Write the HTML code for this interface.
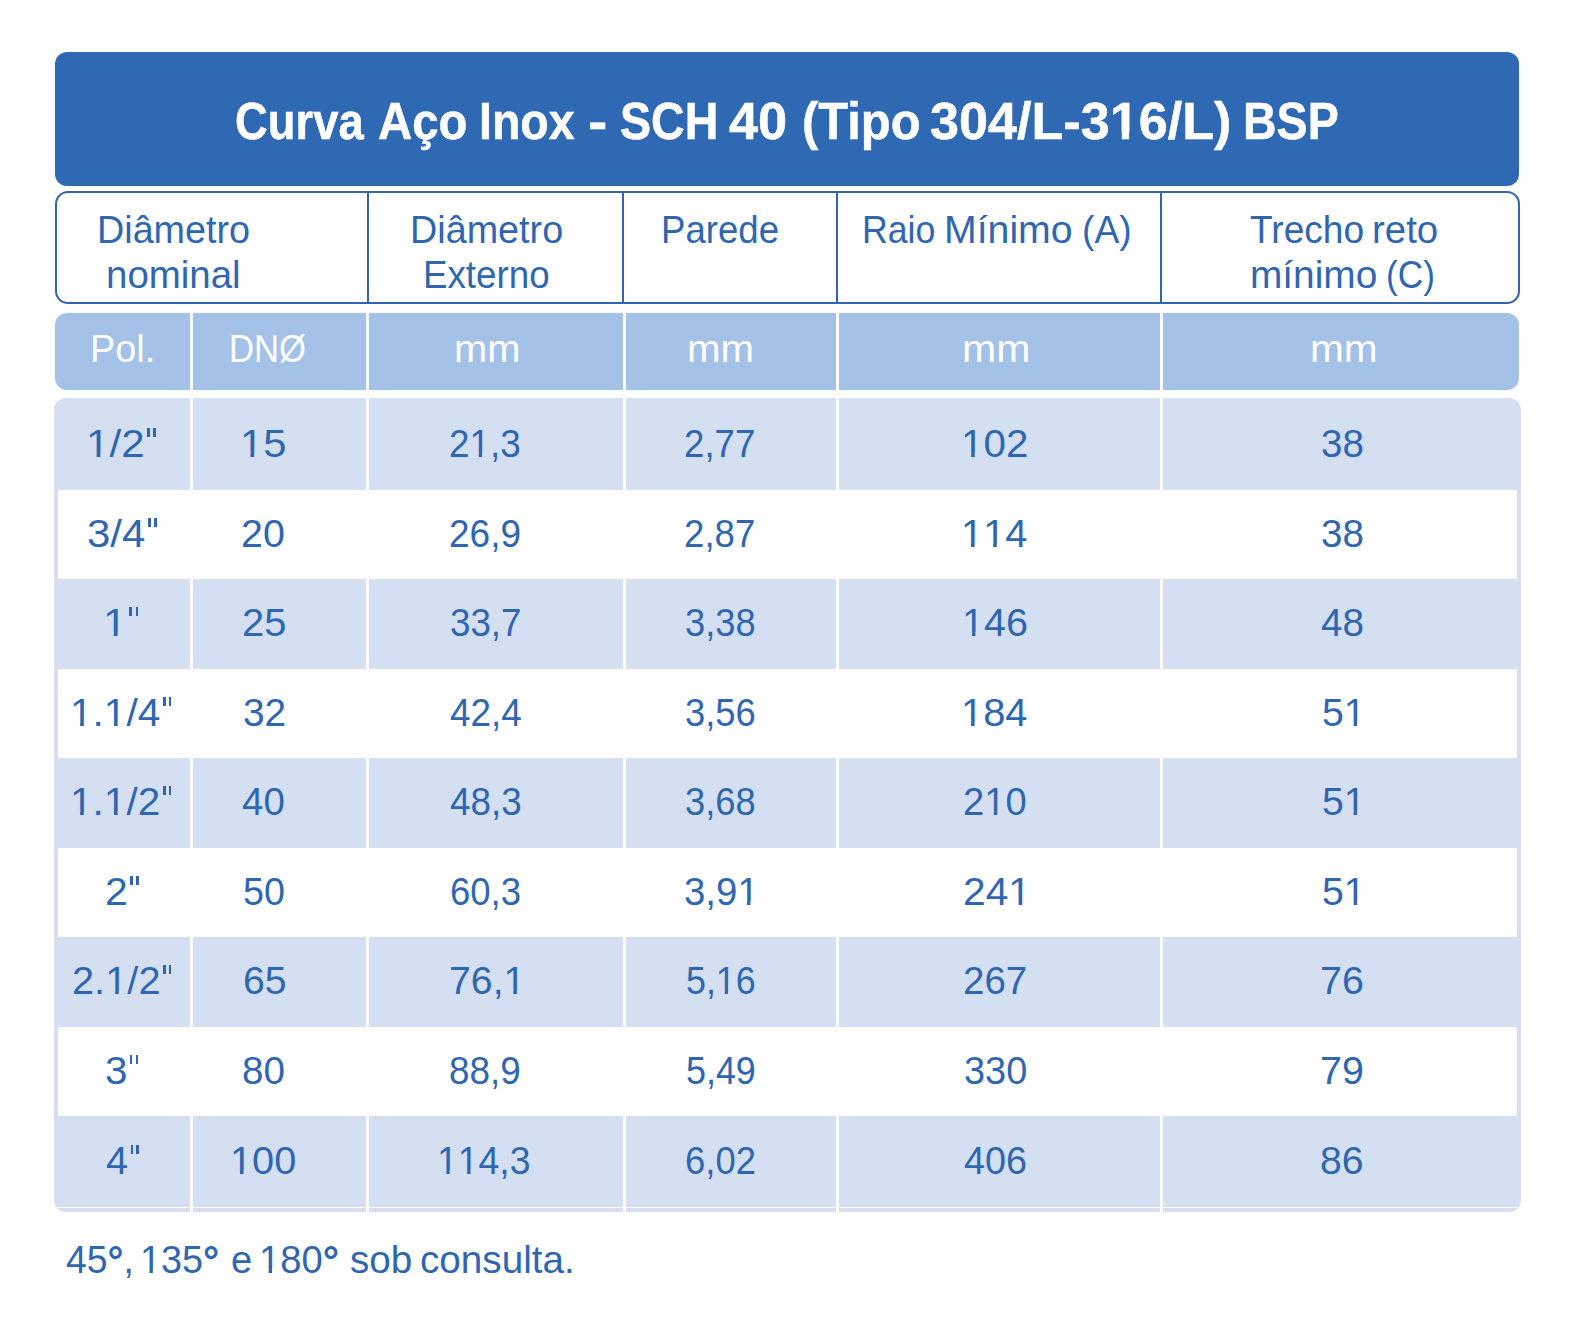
<!DOCTYPE html>
<html><head><meta charset="utf-8">
<style>
*{margin:0;padding:0;box-sizing:border-box}
html,body{width:1575px;height:1334px;background:#fff;overflow:hidden}
body{position:relative;font-family:"Liberation Sans",sans-serif;color:#3066b0}
.a{position:absolute}
.t{position:absolute;white-space:nowrap;transform-origin:0 0}
#title{left:55px;top:52px;width:1464px;height:134px;border-radius:12px;background:#3069b3}
#hdr{left:55px;top:191px;width:1465px;height:113px;border:2px solid #3265a9;border-radius:13px}
.vd{width:2px;background:#3265a9;top:191px;height:113px}
#units{left:55px;top:313px;width:1464px;height:77px;border-radius:12px;background:#a4c1e7}
.wd{width:3px;background:#fff}
#data{left:54px;top:398px;width:1467px;height:814px;border-radius:12px;background:#d4e0f2}
.wr{left:58px;width:1459px;background:#fff}
.q{display:inline-block;width:12.4px;height:8.6px;vertical-align:20.2px;background:linear-gradient(to right,transparent 2.6px,currentColor 2.6px,currentColor 5px,transparent 5px,transparent 8px,currentColor 8px,currentColor 10.4px,transparent 10.4px)}.dg{font-weight:bold;font-size:1.07em;line-height:0;position:relative;top:1.5px}.one{display:inline-block;clip-path:polygon(0 -20px,100% -20px,100% 28.15px,0.3408em 28.15px,0.3408em 120%,0.2505em 120%,0.2505em 28.15px,0 28.15px)}.oneb{display:inline-block;clip-path:polygon(0 -20px,100% -20px,100% 37.21px,0.3716em 37.21px,0.3716em 120%,0.2324em 120%,0.2324em 37.21px,0 37.21px)}
</style></head><body>
<div class="a" id="title"></div>
<div class="a" id="hdr"></div>
<div class="a vd" style="left:367px"></div>
<div class="a vd" style="left:622px"></div>
<div class="a vd" style="left:836px"></div>
<div class="a vd" style="left:1160px"></div>
<div class="a" id="units"></div>
<div class="a wd" style="left:190px;top:313px;height:77px"></div>
<div class="a wd" style="left:366px;top:313px;height:77px"></div>
<div class="a wd" style="left:623px;top:313px;height:77px"></div>
<div class="a wd" style="left:836px;top:313px;height:77px"></div>
<div class="a wd" style="left:1160px;top:313px;height:77px"></div>
<div class="a" id="data"></div>
<div class="a wd" style="left:190px;top:398px;height:814px"></div>
<div class="a wd" style="left:366px;top:398px;height:814px"></div>
<div class="a wd" style="left:623px;top:398px;height:814px"></div>
<div class="a wd" style="left:836px;top:398px;height:814px"></div>
<div class="a wd" style="left:1160px;top:398px;height:814px"></div>
<div class="a wr" style="top:490px;height:89px"></div>
<div class="a wr" style="top:669px;height:89px"></div>
<div class="a wr" style="top:848px;height:89px"></div>
<div class="a wr" style="top:1027px;height:89px"></div>
<div class="a" style="left:58px;width:1459px;top:1207px;height:1px;background:#fff"></div>
<div class="t" style="left:234.65px;top:95.00px;font-size:52.3px;line-height:52.3px;transform:scaleX(0.8684);font-weight:bold;-webkit-text-stroke:0.5px #fff;color:#fff;">Curva</div>
<div class="t" style="left:377.97px;top:95.00px;font-size:52.3px;line-height:52.3px;transform:scaleX(0.9058);font-weight:bold;-webkit-text-stroke:0.5px #fff;color:#fff;">Aço</div>
<div class="t" style="left:479.09px;top:95.00px;font-size:52.3px;line-height:52.3px;transform:scaleX(0.8899);font-weight:bold;-webkit-text-stroke:0.5px #fff;color:#fff;">Inox</div>
<div class="t" style="left:587.88px;top:95.00px;font-size:52.3px;line-height:52.3px;transform:scaleX(1.1094);font-weight:bold;-webkit-text-stroke:0.5px #fff;color:#fff;">-</div>
<div class="t" style="left:620.16px;top:95.00px;font-size:52.3px;line-height:52.3px;transform:scaleX(0.8903);font-weight:bold;-webkit-text-stroke:0.5px #fff;color:#fff;">SCH</div>
<div class="t" style="left:729.25px;top:95.00px;font-size:52.3px;line-height:52.3px;transform:scaleX(1.0009);font-weight:bold;-webkit-text-stroke:0.5px #fff;color:#fff;">40</div>
<div class="t" style="left:801.56px;top:95.00px;font-size:52.3px;line-height:52.3px;transform:scaleX(0.9342);font-weight:bold;-webkit-text-stroke:0.5px #fff;color:#fff;">(Tipo</div>
<div class="t" style="left:930.45px;top:95.00px;font-size:52.3px;line-height:52.3px;transform:scaleX(0.9970);font-weight:bold;-webkit-text-stroke:0.5px #fff;color:#fff;">304/L-3<span class="oneb">1</span>6/L)</div>
<div class="t" style="left:1242.69px;top:95.00px;font-size:52.3px;line-height:52.3px;transform:scaleX(0.8900);font-weight:bold;-webkit-text-stroke:0.5px #fff;color:#fff;">BSP</div>
<div class="t" style="left:96.69px;top:211.00px;font-size:38.2px;line-height:38.2px;transform:scaleX(0.9880);">Diâmetro</div>
<div class="t" style="left:105.78px;top:256.00px;font-size:38.2px;line-height:38.2px;transform:scaleX(1.0066);">nominal</div>
<div class="t" style="left:409.59px;top:211.00px;font-size:38.2px;line-height:38.2px;transform:scaleX(0.9887);">Diâmetro</div>
<div class="t" style="left:422.97px;top:256.00px;font-size:38.2px;line-height:38.2px;transform:scaleX(0.9617);">Externo</div>
<div class="t" style="left:660.59px;top:211.00px;font-size:38.2px;line-height:38.2px;transform:scaleX(0.9581);">Parede</div>
<div class="t" style="left:861.86px;top:211.00px;font-size:38.2px;line-height:38.2px;transform:scaleX(0.9342);">Raio</div>
<div class="t" style="left:943.76px;top:211.00px;font-size:38.2px;line-height:38.2px;transform:scaleX(1.0270);">Mínimo</div>
<div class="t" style="left:1081.71px;top:211.00px;font-size:38.2px;line-height:38.2px;transform:scaleX(0.9751);">(A)</div>
<div class="t" style="left:1249.57px;top:211.00px;font-size:38.2px;line-height:38.2px;transform:scaleX(0.9713);">Trecho</div>
<div class="t" style="left:1372.09px;top:211.00px;font-size:38.2px;line-height:38.2px;transform:scaleX(1.0057);">reto</div>
<div class="t" style="left:1250.46px;top:256.00px;font-size:38.2px;line-height:38.2px;transform:scaleX(1.0165);">mínimo</div>
<div class="t" style="left:1386.43px;top:256.00px;font-size:38.2px;line-height:38.2px;transform:scaleX(0.9216);">(C)</div>
<div class="t" style="left:90.18px;top:330.00px;font-size:38.2px;line-height:38.2px;transform:scaleX(0.9915);color:#fff;">Pol.</div>
<div class="t" style="left:229.45px;top:330.00px;font-size:38.2px;line-height:38.2px;transform:scaleX(0.9072);color:#fff;">DNØ</div>
<div class="t" style="left:453.59px;top:330.00px;font-size:38.2px;line-height:38.2px;transform:scaleX(1.0444);color:#fff;">mm</div>
<div class="t" style="left:686.67px;top:330.00px;font-size:38.2px;line-height:38.2px;transform:scaleX(1.0530);color:#fff;">mm</div>
<div class="t" style="left:962.12px;top:330.00px;font-size:38.2px;line-height:38.2px;transform:scaleX(1.0735);color:#fff;">mm</div>
<div class="t" style="left:1309.74px;top:330.00px;font-size:38.2px;line-height:38.2px;transform:scaleX(1.0632);color:#fff;">mm</div>
<div class="t" style="left:86.36px;top:425.00px;font-size:38.2px;line-height:38.2px;transform:scaleX(1.1046);"><span class="one">1</span>/2<span class="q"></span></div>
<div class="t" style="left:240.00px;top:425.00px;font-size:38.2px;line-height:38.2px;transform:scaleX(1.0926);"><span class="one">1</span>5</div>
<div class="t" style="left:449.17px;top:425.00px;font-size:38.2px;line-height:38.2px;transform:scaleX(0.9654);">2<span class="one">1</span>,3</div>
<div class="t" style="left:684.08px;top:425.00px;font-size:38.2px;line-height:38.2px;transform:scaleX(0.9603);">2,77</div>
<div class="t" style="left:961.44px;top:425.00px;font-size:38.2px;line-height:38.2px;transform:scaleX(1.0569);"><span class="one">1</span>02</div>
<div class="t" style="left:1320.79px;top:425.00px;font-size:38.2px;line-height:38.2px;transform:scaleX(1.0089);">38</div>
<div class="t" style="left:86.95px;top:515.00px;font-size:38.2px;line-height:38.2px;transform:scaleX(1.1000);">3/4<span class="q"></span></div>
<div class="t" style="left:241.43px;top:515.00px;font-size:38.2px;line-height:38.2px;transform:scaleX(1.0333);">20</div>
<div class="t" style="left:449.16px;top:515.00px;font-size:38.2px;line-height:38.2px;transform:scaleX(0.9688);">26,9</div>
<div class="t" style="left:684.08px;top:515.00px;font-size:38.2px;line-height:38.2px;transform:scaleX(0.9603);">2,87</div>
<div class="t" style="left:961.49px;top:515.00px;font-size:38.2px;line-height:38.2px;transform:scaleX(1.0434);"><span class="one">1</span><span class="one">1</span>4</div>
<div class="t" style="left:1320.79px;top:515.00px;font-size:38.2px;line-height:38.2px;transform:scaleX(1.0089);">38</div>
<div class="t" style="left:103.40px;top:604.00px;font-size:38.2px;line-height:38.2px;transform:scaleX(1.1207);"><span class="one">1</span><span class="q"></span></div>
<div class="t" style="left:242.01px;top:604.00px;font-size:38.2px;line-height:38.2px;transform:scaleX(1.0436);">25</div>
<div class="t" style="left:449.66px;top:604.00px;font-size:38.2px;line-height:38.2px;transform:scaleX(0.9620);">33,7</div>
<div class="t" style="left:684.57px;top:604.00px;font-size:38.2px;line-height:38.2px;transform:scaleX(0.9502);">3,38</div>
<div class="t" style="left:961.52px;top:604.00px;font-size:38.2px;line-height:38.2px;transform:scaleX(1.0352);"><span class="one">1</span>46</div>
<div class="t" style="left:1320.59px;top:604.00px;font-size:38.2px;line-height:38.2px;transform:scaleX(1.0138);">48</div>
<div class="t" style="left:70.32px;top:694.00px;font-size:38.2px;line-height:38.2px;transform:scaleX(1.0616);"><span class="one">1</span>.<span class="one">1</span>/4<span class="q"></span></div>
<div class="t" style="left:242.57px;top:694.00px;font-size:38.2px;line-height:38.2px;transform:scaleX(1.0179);">32</div>
<div class="t" style="left:449.53px;top:694.00px;font-size:38.2px;line-height:38.2px;transform:scaleX(0.9661);">42,4</div>
<div class="t" style="left:684.57px;top:694.00px;font-size:38.2px;line-height:38.2px;transform:scaleX(0.9535);">3,56</div>
<div class="t" style="left:961.49px;top:694.00px;font-size:38.2px;line-height:38.2px;transform:scaleX(1.0434);"><span class="one">1</span>84</div>
<div class="t" style="left:1322.46px;top:694.00px;font-size:38.2px;line-height:38.2px;transform:scaleX(1.0260);">5<span class="one">1</span></div>
<div class="t" style="left:70.32px;top:783.00px;font-size:38.2px;line-height:38.2px;transform:scaleX(1.0616);"><span class="one">1</span>.<span class="one">1</span>/2<span class="q"></span></div>
<div class="t" style="left:242.49px;top:783.00px;font-size:38.2px;line-height:38.2px;transform:scaleX(1.0075);">40</div>
<div class="t" style="left:449.54px;top:783.00px;font-size:38.2px;line-height:38.2px;transform:scaleX(0.9636);">48,3</div>
<div class="t" style="left:684.57px;top:783.00px;font-size:38.2px;line-height:38.2px;transform:scaleX(0.9502);">3,68</div>
<div class="t" style="left:963.40px;top:783.00px;font-size:38.2px;line-height:38.2px;transform:scaleX(1.0008);">2<span class="one">1</span>0</div>
<div class="t" style="left:1322.46px;top:783.00px;font-size:38.2px;line-height:38.2px;transform:scaleX(1.0260);">5<span class="one">1</span></div>
<div class="t" style="left:104.85px;top:873.00px;font-size:38.2px;line-height:38.2px;transform:scaleX(1.0746);">2<span class="q"></span></div>
<div class="t" style="left:243.32px;top:873.00px;font-size:38.2px;line-height:38.2px;transform:scaleX(0.9873);">50</div>
<div class="t" style="left:450.09px;top:873.00px;font-size:38.2px;line-height:38.2px;transform:scaleX(0.9560);">60,3</div>
<div class="t" style="left:684.49px;top:873.00px;font-size:38.2px;line-height:38.2px;transform:scaleX(1.0054);">3,9<span class="one">1</span></div>
<div class="t" style="left:963.27px;top:873.00px;font-size:38.2px;line-height:38.2px;transform:scaleX(1.0673);">24<span class="one">1</span></div>
<div class="t" style="left:1322.46px;top:873.00px;font-size:38.2px;line-height:38.2px;transform:scaleX(1.0260);">5<span class="one">1</span></div>
<div class="t" style="left:72.22px;top:962.00px;font-size:38.2px;line-height:38.2px;transform:scaleX(1.0417);">2.<span class="one">1</span>/2<span class="q"></span></div>
<div class="t" style="left:242.75px;top:962.00px;font-size:38.2px;line-height:38.2px;transform:scaleX(1.0256);">65</div>
<div class="t" style="left:449.05px;top:962.00px;font-size:38.2px;line-height:38.2px;transform:scaleX(1.0272);">76,<span class="one">1</span></div>
<div class="t" style="left:685.60px;top:962.00px;font-size:38.2px;line-height:38.2px;transform:scaleX(0.9361);">5,<span class="one">1</span>6</div>
<div class="t" style="left:963.38px;top:962.00px;font-size:38.2px;line-height:38.2px;transform:scaleX(1.0092);">267</div>
<div class="t" style="left:1319.94px;top:962.00px;font-size:38.2px;line-height:38.2px;transform:scaleX(1.0323);">76</div>
<div class="t" style="left:105.42px;top:1052.00px;font-size:38.2px;line-height:38.2px;transform:scaleX(1.0567);">3<span class="q"></span></div>
<div class="t" style="left:242.33px;top:1052.00px;font-size:38.2px;line-height:38.2px;transform:scaleX(1.0115);">80</div>
<div class="t" style="left:449.41px;top:1052.00px;font-size:38.2px;line-height:38.2px;transform:scaleX(0.9654);">88,9</div>
<div class="t" style="left:685.59px;top:1052.00px;font-size:38.2px;line-height:38.2px;transform:scaleX(0.9394);">5,49</div>
<div class="t" style="left:963.91px;top:1052.00px;font-size:38.2px;line-height:38.2px;transform:scaleX(0.9926);">330</div>
<div class="t" style="left:1319.94px;top:1052.00px;font-size:38.2px;line-height:38.2px;transform:scaleX(1.0323);">79</div>
<div class="t" style="left:105.96px;top:1142.00px;font-size:38.2px;line-height:38.2px;transform:scaleX(1.0393);">4<span class="q"></span></div>
<div class="t" style="left:230.10px;top:1142.00px;font-size:38.2px;line-height:38.2px;transform:scaleX(1.0410);"><span class="one">1</span>00</div>
<div class="t" style="left:437.34px;top:1142.00px;font-size:38.2px;line-height:38.2px;transform:scaleX(0.9773);"><span class="one">1</span><span class="one">1</span>4,3</div>
<div class="t" style="left:685.09px;top:1142.00px;font-size:38.2px;line-height:38.2px;transform:scaleX(0.9546);">6,02</div>
<div class="t" style="left:964.41px;top:1142.00px;font-size:38.2px;line-height:38.2px;transform:scaleX(0.9885);">406</div>
<div class="t" style="left:1320.21px;top:1142.00px;font-size:38.2px;line-height:38.2px;transform:scaleX(1.0256);">86</div>
<div class="t" style="left:66.22px;top:1241.00px;font-size:38.2px;line-height:38.2px;transform:scaleX(0.9754);">45<span class='dg'>°</span>,</div>
<div class="t" style="left:139.99px;top:1241.00px;font-size:38.2px;line-height:38.2px;transform:scaleX(0.9893);"><span class="one">1</span>35<span class='dg'>°</span></div>
<div class="t" style="left:230.55px;top:1241.00px;font-size:38.2px;line-height:38.2px;transform:scaleX(0.9972);">e</div>
<div class="t" style="left:258.86px;top:1241.00px;font-size:38.2px;line-height:38.2px;transform:scaleX(0.9987);"><span class="one">1</span>80<span class='dg'>°</span></div>
<div class="t" style="left:349.59px;top:1241.00px;font-size:38.2px;line-height:38.2px;transform:scaleX(1.0119);">sob</div>
<div class="t" style="left:420.43px;top:1241.00px;font-size:38.2px;line-height:38.2px;transform:scaleX(1.0129);">consulta.</div>
</body></html>
